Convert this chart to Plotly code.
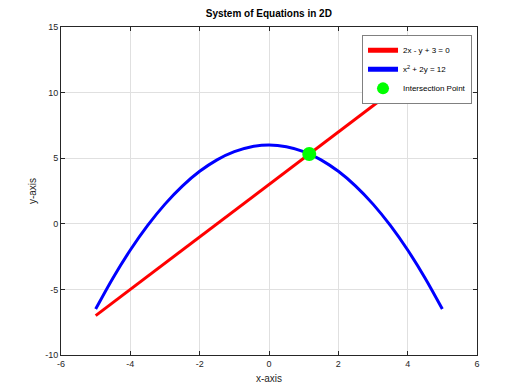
import plotly.graph_objects as go

line_x = [-5, 5]
line_y = [-7, 13]

parab_x = [-5, -4.5, -4, -3.5, -3, -2.5, -2, -1.5, -1, -0.5, 0, 0.5, 1, 1.5, 2, 2.5, 3, 3.5, 4, 4.5, 5]
parab_y = [-6.5, -4.125, -2, -0.125, 1.5, 2.875, 4, 4.875, 5.5, 5.875, 6, 5.875, 5.5, 4.875, 4, 2.875, 1.5, -0.125, -2, -4.125, -6.5]

inter_x = [1.162]
inter_y = [5.325]

x_ticks = [-6, -4, -2, 0, 2, 4, 6]
x_labels = ["-6", "-4", "-2", "0", "2", "4", "6"]
y_ticks = [-10, -5, 0, 5, 10, 15]
y_labels = ["-10", "-5", "0", "5", "10", "15"]

fig = go.Figure()
fig.add_trace(go.Scatter(x=line_x, y=line_y, mode="lines", line=dict(color="#ff0000", width=3),
                         name="2x - y + 3 = 0"))
fig.add_trace(go.Scatter(x=parab_x, y=parab_y, mode="lines", line=dict(color="#0000ff", width=3, shape="spline"),
                         name="x<sup>2</sup> + 2y = 12"))
fig.add_trace(go.Scatter(x=inter_x, y=inter_y, mode="markers", marker=dict(color="#00ff00", size=14),
                         name="Intersection Point"))

axis_common = dict(showline=True, linecolor="#262626", linewidth=1, mirror="ticks", ticks="inside",
                   ticklen=4, tickcolor="#262626", showgrid=True, gridcolor="#e0e0e0", gridwidth=1,
                   zeroline=False, tickfont=dict(size=9, color="#262626"), automargin=False)

fig.update_layout(
    width=512, height=388,
    margin=dict(l=61, r=35, t=27, b=33),
    paper_bgcolor="white", plot_bgcolor="white",
    font=dict(family="Liberation Sans, Arial, sans-serif", color="#262626"),
    title=dict(text="<b>System of Equations in 2D</b>", x=0.525, xanchor="center", y=0.966, yanchor="middle",
               font=dict(size=10, color="black")),
    xaxis=dict(range=[-6, 6], tickvals=x_ticks, ticktext=x_labels,
               title=dict(text="x-axis", font=dict(size=10), standoff=7), **axis_common),
    yaxis=dict(range=[-10, 15], tickvals=y_ticks, ticktext=y_labels,
               title=dict(text="y-axis", font=dict(size=10), standoff=6), **axis_common),
    legend=dict(x=0.988, y=0.976, xanchor="right", yanchor="top", bgcolor="white", bordercolor="#808080",
                borderwidth=1, font=dict(size=8, color="black"), itemwidth=30, tracegroupgap=0,
                itemsizing="constant"),
    showlegend=True,
)

fig.write_html("out.html", config={"displayModeBar": False},
               post_script="document.body.style.margin='0px';")
